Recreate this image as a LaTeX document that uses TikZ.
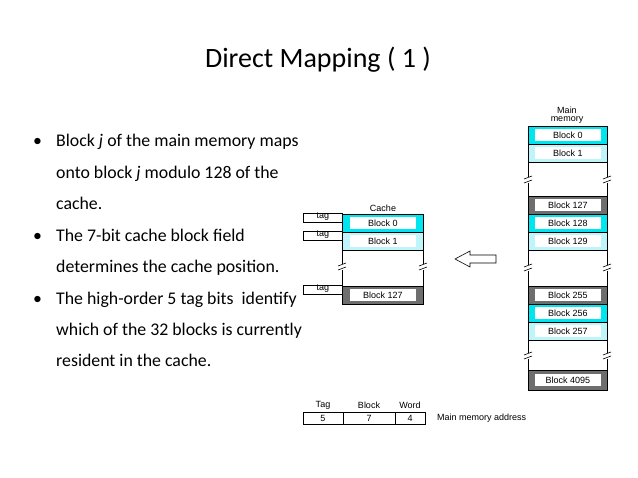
\documentclass[tikz,border=0pt]{standalone}
\usepackage{fontspec}
\setmainfont{Carlito}
\newfontfamily\arial{Liberation Sans}
\definecolor{cy}{RGB}{0,230,240}
\definecolor{lcy}{RGB}{190,245,250}
\definecolor{gr}{RGB}{110,110,110}
\tikzset{
  blk/.style={draw=black,line width=0.6pt,minimum width=79pt,minimum height=18pt,inner sep=0pt,anchor=north west},
  lab/.style={font=\arial\fontsize{9}{10}\selectfont,inner sep=0pt},
  inner/.style={fill=white,minimum width=66pt,minimum height=12pt,inner sep=0pt},
  btxt/.style={font=\fontsize{17.8}{20}\selectfont,anchor=base west,inner sep=0pt},
  brk/.style={line width=0.6pt}
}
\newcommand{\memblk}[5]{% name, x, y, fill, text
  \node[blk,fill=#4] (#1) at (#2,#3) {};
  \node[inner,lab] (#1t) at (#1.center) {#5};
}
\newcommand{\brkmark}[2]{%
  \fill[white] (#1-4,#2-3) rectangle (#1+4,#2+3);
  \draw[brk] (#1-4,#2-1) -- (#1+4,#2-4);
  \draw[brk] (#1-4,#2+3) -- (#1+4,#2);
}
\begin{document}
\begin{tikzpicture}[x=1pt,y=-1pt]
\useasboundingbox (0,0) rectangle (638,478);
\node[font=\fontsize{28}{32}\selectfont] (title) at (318,60) {Direct Mapping ( 1 )};
% bullets
\node[btxt] (b1) at (33,147) {•}; \node[btxt] (l1) at (56,147) {Block \textit{j} of the main memory maps};
\node[btxt] (l2) at (56,179) {onto block \textit{j} modulo 128 of the};
\node[btxt] (l3) at (56,210) {cache.};
\node[btxt] (b2) at (33,242) {•}; \node[btxt] (l4) at (56,242) {The 7-bit cache block field};
\node[btxt] (l5) at (56,273) {determines the cache position.};
\node[btxt] (b3) at (33,305) {•}; \node[btxt] (l6) at (56,305) {The high-order 5 tag bits\ \ identify};
\node[btxt] (l7) at (56,336) {which of the 32 blocks is currently};
\node[btxt] (l8) at (56,367) {resident in the cache.};
% main memory
\node[lab,align=center,font=\arial\fontsize{9}{8.5}\selectfont] (mml) at (567,115) {Main\\memory};
\draw[line width=0.6pt] (528,126) rectangle (607,390);
\memblk{m0}{528}{126}{cy}{Block 0}
\memblk{m1}{528}{144}{lcy}{Block 1}
\memblk{m127}{528}{196}{gr}{Block 127}
\memblk{m128}{528}{214}{cy}{Block 128}
\memblk{m129}{528}{232}{lcy}{Block 129}
\memblk{m255}{528}{286}{gr}{Block 255}
\memblk{m256}{528}{304}{cy}{Block 256}
\memblk{m257}{528}{322}{lcy}{Block 257}
\node[blk,fill=gr,minimum height=20pt] (m4095) at (528,370) {};
\node[inner,lab] (m4095t) at (m4095.center) {Block 4095};
\brkmark{528}{180}\brkmark{607}{180}
\brkmark{528}{268}\brkmark{607}{268}
\brkmark{528}{356}\brkmark{607}{356}
% cache
\node[lab] (cl) at (383,208) {Cache};
\draw[line width=0.6pt] (342,214) rectangle (423,304);
\node[blk,fill=cy,minimum width=81pt] (c0) at (342,214) {};
\node[inner,lab] (c0t) at (c0.center) {Block 0};
\node[blk,fill=lcy,minimum width=81pt] (c1) at (342,232) {};
\node[inner,lab] (c1t) at (c1.center) {Block 1};
\node[blk,fill=gr,minimum width=81pt] (c127) at (342,286) {};
\node[inner,lab] (c127t) at (c127.center) {Block 127};
\brkmark{342}{267}\brkmark{423}{267}
\foreach \n/\y in {t0/214,t1/232,t2/286}{
  \node[draw,line width=0.6pt,minimum width=39pt,minimum height=9pt,inner sep=0pt,anchor=north west] (\n) at (303,\y-1) {};
  \node[lab] at ([yshift=1pt]\n.center) {tag};
}
% arrow (hollow, pointing left)
\draw[line width=0.6pt,fill=white] (455,259) -- (470,251) -- (470,255) -- (496,255) -- (496,263) -- (470,263) -- (470,267) -- cycle;
% address
\node[draw,lab,minimum width=40pt,minimum height=12pt] (aT) at (323,418) {5};
\node[draw,lab,minimum width=52pt,minimum height=12pt] (aB) at (369,418) {7};
\node[draw,lab,minimum width=30pt,minimum height=12pt] (aW) at (410,418) {4};
\node[lab] (hT) at (323,405) {Tag};
\node[lab] (hB) at (369,405) {Block};
\node[lab] (hW) at (410,405) {Word};
\node[lab,anchor=west] (mma) at (437,418) {Main memory address};
\end{tikzpicture}
\end{document}
